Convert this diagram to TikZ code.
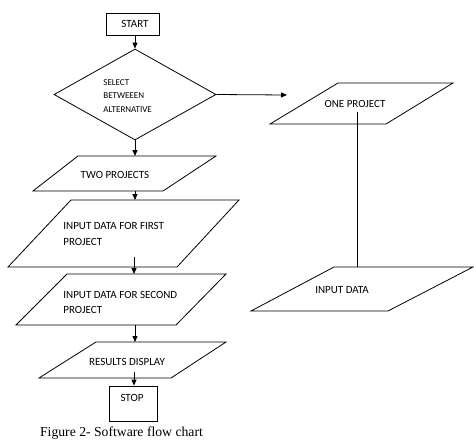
\documentclass[tikz,border=0pt]{standalone}
\usepackage{fontspec}
\setmainfont{Carlito}
\newfontfamily\capfont{Liberation Serif}
\usetikzlibrary{shapes.geometric,arrows.meta}
\begin{document}
\begin{tikzpicture}[x=1pt,y=-1pt,
  line width=0.8pt,
  arr/.style={-{Triangle[length=6pt,width=5pt]}},
  txt/.style={inner sep=0pt,font=\fontsize{11}{13}\selectfont},
  boxs/.style={draw,rectangle,inner sep=0pt},
  pg/.style={draw,line join=miter}]
\useasboundingbox (0,0) rectangle (474,440);
\fill[white] (0,0) rectangle (474,440);
% START
\node[boxs,minimum width=53pt,minimum height=22pt] (start) at (132.5,24) {};
\node[txt] (startt) at (135,24) {START};
% decision
\node[draw,diamond,minimum width=162pt,minimum height=91pt,inner sep=0pt] (dia) at (135,94.5) {};
\node[inner sep=0pt,anchor=west,align=left,font=\fontsize{9}{13.5}\selectfont] (diat) at (103,96) {SELECT\\BETWEEEN\\ALTERNATIVE};
\draw[arr] (start.south -| dia.north) -- (dia.north);
% ONE PROJECT
\draw[pg] (338,83) -- (453,83) -- (386,124) -- (270,124) -- cycle;
\node[txt] (one) at (355,104) {ONE PROJECT};
\coordinate (oneleft) at (287,95);
\draw[arr] (dia.east) -- (oneleft);
% INPUT DATA
\draw[pg] (334,267) -- (473,267) -- (388,311) -- (251,311) -- cycle;
\node[txt] (ind) at (342,290) {INPUT DATA};
\coordinate (onestem) at (357,112);
\coordinate (indtop) at (357,267);
\draw (onestem) -- (indtop);
% TWO PROJECTS
\draw[pg] (78,156) -- (216,156) -- (163,191) -- (33,191) -- cycle;
\node[txt] (two) at (115,175) {TWO PROJECTS};
\coordinate (twotop) at (135,156);
\coordinate (twobot) at (135,191);
\draw[arr] (dia.south) -- (twotop);
% FIRST
\draw[pg] (71,200) -- (239,200) -- (177,267) -- (8,267) -- cycle;
\node[txt,anchor=west,align=left,font=\fontsize{11}{16.7}\selectfont] (first) at (63,234) {INPUT DATA FOR FIRST\\PROJECT};
\coordinate (firsttop) at (135,200);
\coordinate (firststem) at (134,257);
\draw[arr] (twobot) -- (firsttop);
% SECOND
\draw[pg] (67,274) -- (226,274) -- (176,325) -- (16,325) -- cycle;
\node[txt,anchor=west,align=left,font=\fontsize{11}{14.3}\selectfont] (second) at (63,302.5) {INPUT DATA FOR SECOND\\PROJECT};
\coordinate (secondtop) at (134,274);
\coordinate (secondbot) at (135,325);
\draw[arr] (firststem) -- (secondtop);
% RESULTS
\draw[pg] (96,342) -- (226,342) -- (171,378) -- (39,378) -- cycle;
\node[txt] (res) at (127,362) {RESULTS DISPLAY};
\coordinate (restop) at (135,342);
\coordinate (resstem) at (134,372);
\draw[arr] (secondbot) -- (restop);
% STOP
\node[boxs,minimum width=48pt,minimum height=35pt] (stop) at (133,403.5) {};
\node[txt] (stopt) at (132,398) {STOP};
\draw[arr] (resstem) -- (resstem |- stop.north);
% caption
\node[inner sep=0pt,font=\capfont\fontsize{13.7}{16}\selectfont] (cap) at (121.5,433) {Figure 2- Software flow chart};
\end{tikzpicture}
\end{document}
